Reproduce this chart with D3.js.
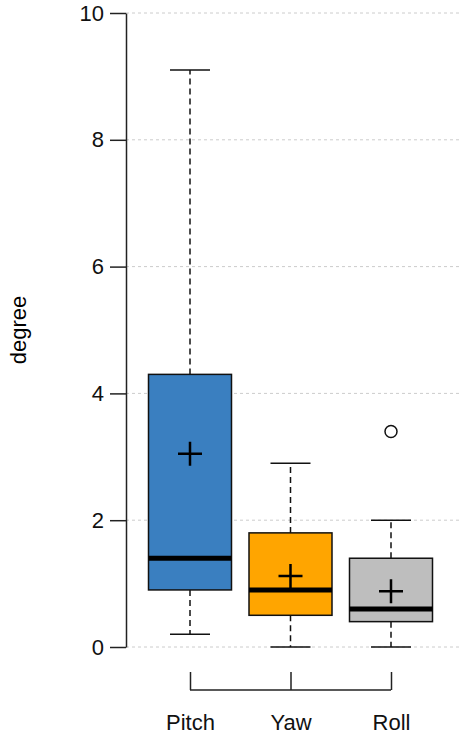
<!DOCTYPE html>
<html>
<head>
<meta charset="utf-8" />
<script src="https://cdn.jsdelivr.net/npm/d3@7"></script>
<style>body{margin:0;background:#fff}text{font-family:"Liberation Sans",Arial,sans-serif}</style>
</head>
<body>
<svg id="chart" width="459" height="750"></svg>
<script>
// box statistics
let categories = ['Pitch', 'Yaw', 'Roll'];
let colors = ['#3a7fc0', '#ffa500', '#bebebe'];
let mins = [0.2, 0, 0];
let q1s = [0.9, 0.5, 0.4];
let medians = [1.4, 0.9, 0.6];
let q3s = [4.3, 1.8, 1.4];
let maxs = [9.1, 2.9, 2.0];
let means = [3.05, 1.12, 0.88];
let outliers = [[], [], [3.4]];
let yTicks = [0, 2, 4, 6, 8, 10];

let svg = d3.select('#chart');
let yScale = d3.scaleLinear().domain([0, 10]).range([647, 13]);
let xScale = d3.scalePoint().domain(categories).range([190, 391]);
let bw = 83;

// dashed grid
svg.selectAll('line.grid').data(yTicks).enter().append('line')
  .attr('x1', 126).attr('x2', 459)
  .attr('y1', d => yScale(d)).attr('y2', d => yScale(d))
  .style('stroke', '#ccc').style('stroke-dasharray', '3,3');

let yAxis = d3.axisLeft(yScale).tickValues(yTicks).tickSize(16).tickPadding(6).tickSizeOuter(0);
let ya = svg.append('g').attr('transform', 'translate(126,0)').call(yAxis);
ya.selectAll('path, line').style('stroke', '#222').style('stroke-width', '1.5px');
ya.selectAll('text').style('font-size', '22px').style('fill', '#111').attr('font-family', 'Liberation Sans, Arial, sans-serif');

svg.append('text').attr('transform', 'translate(26,330) rotate(-90)')
  .attr('text-anchor', 'middle').style('font-size', '22px').text('degree');

// bottom bracket axis
let xAxis = d3.axisBottom(xScale).tickSize(-18).tickSizeOuter(0).tickPadding(24);
let xa = svg.append('g').attr('transform', 'translate(0,690)').call(xAxis);
xa.select('path').attr('d', 'M190,0H391').style('stroke', '#222').style('stroke-width', '1.5px');
xa.selectAll('line').style('stroke', '#222').style('stroke-width', '1.5px');
xa.selectAll('text').style('font-size', '22px').style('fill', '#111').attr('dy', '0.71em').attr('font-family', 'Liberation Sans, Arial, sans-serif');

categories.forEach((c, i) => {
  let g = svg.append('g').attr('transform', 'translate(' + xScale(c) + ',0)');
  // whiskers
  g.append('line').attr('x1', 0).attr('x2', 0).attr('y1', yScale(q3s[i])).attr('y2', yScale(maxs[i]))
    .style('stroke', '#111').style('stroke-width', 1.5).style('stroke-dasharray', '6,4');
  g.append('line').attr('x1', 0).attr('x2', 0).attr('y1', yScale(q1s[i])).attr('y2', yScale(mins[i]))
    .style('stroke', '#111').style('stroke-width', 1.5).style('stroke-dasharray', '6,4');
  [mins[i], maxs[i]].forEach(v => {
    g.append('line').attr('x1', -20).attr('x2', 20).attr('y1', yScale(v)).attr('y2', yScale(v))
      .style('stroke', '#111').style('stroke-width', 1.5);
  });
  g.append('rect').attr('x', -bw / 2).attr('width', bw)
    .attr('y', yScale(q3s[i])).attr('height', yScale(q1s[i]) - yScale(q3s[i]))
    .style('fill', colors[i]).style('stroke', '#111').style('stroke-width', 1.5);
  g.append('line').attr('x1', -bw / 2).attr('x2', bw / 2).attr('y1', yScale(medians[i])).attr('y2', yScale(medians[i]))
    .style('stroke', '#000').style('stroke-width', 5);
  // mean cross
  let my = yScale(means[i]);
  g.append('path').attr('d', 'M-12,' + my + 'H12M0,' + (my - 12) + 'V' + (my + 12))
    .style('stroke', '#000').style('stroke-width', 2.5);
  outliers[i].forEach(v => {
    g.append('circle').attr('cy', yScale(v)).attr('r', 6)
      .style('fill', 'none').style('stroke', '#111').style('stroke-width', 1.5);
  });
});
</script>
</body>
</html>
